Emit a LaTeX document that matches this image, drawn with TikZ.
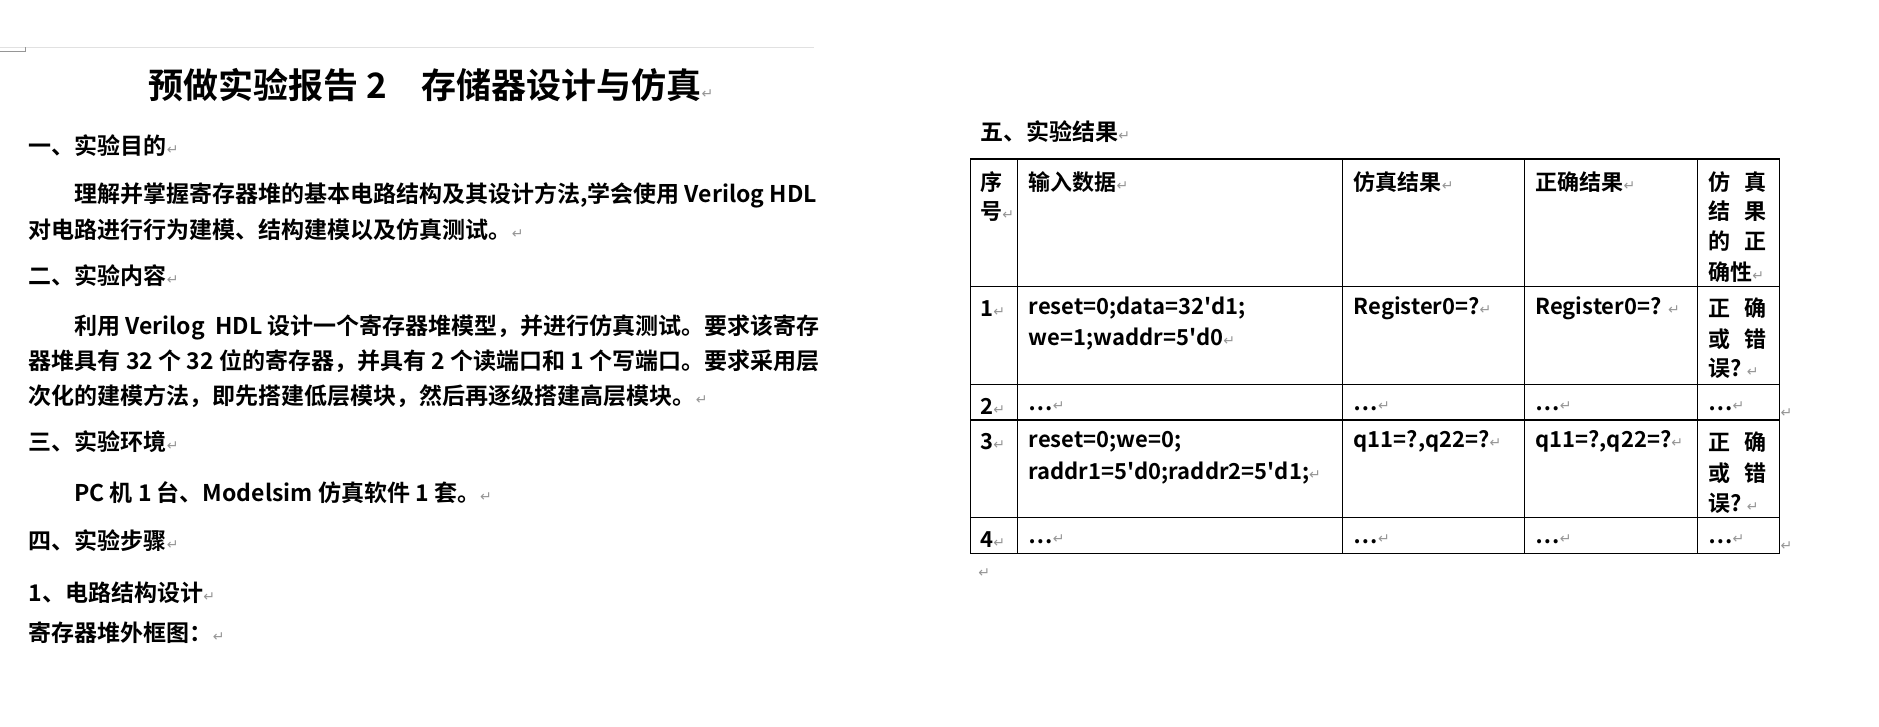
\documentclass[tikz,border=0pt]{standalone}
\usepackage{fontspec}
\setmainfont{Noto Sans CJK SC Bold}
\newfontfamily\symfont{DejaVu Sans}
\definecolor{markgray}{RGB}{150,150,150}
\definecolor{rulegray}{RGB}{225,225,225}
\newcommand{\ret}{{\symfont\color{markgray}\fontsize{14}{14}\selectfont ↵}}
\newcommand{\q}{\textquotesingle}
\begin{document}
\begin{tikzpicture}[x=1pt,y=-1pt,
  txt/.style={anchor=west, inner sep=0pt, font=\fontsize{23}{31}\selectfont},
  cell/.style={anchor=west, inner sep=0pt, font=\fontsize{22}{31}\selectfont}]
  \useasboundingbox[fill=white] (0,0) rectangle (1879,727);
  \begin{scope}[scale=0.988]
  % page edge
  \draw[rulegray] (0,48) -- (824,48);
  \draw[markgray] (0,52) -- (26,52) -- (26,48);
  % left column
  \node[txt, anchor=center, font=\fontsize{35}{38}\selectfont] (title) at (436,86) {预做实验报告 2\quad 存储器设计与仿真\ret};
  \node[txt] (h1) at (29,147) {一、实验目的\ret};
  \node[txt] (p1a) at (75,198) {理解并掌握寄存器堆的基本电路结构及其设计方法,学会使用 Verilog HDL};
  \node[txt] (p1b) at (29,233) {对电路进行行为建模、结构建模以及仿真测试。\ret};
  \node[txt] (h2) at (29,279) {二、实验内容\ret};
  \node[txt] (p2a) at (75,331) {利用 Verilog\ \ HDL 设计一个寄存器堆模型，并进行仿真测试。要求该寄存};
  \node[txt] (p2b) at (29,366) {器堆具有 32 个 32 位的寄存器，并具有 2 个读端口和 1 个写端口。要求采用层};
  \node[txt] (p2c) at (29,401) {次化的建模方法，即先搭建低层模块，然后再逐级搭建高层模块。\ret};
  \node[txt] (h3) at (29,447) {三、实验环境\ret};
  \node[txt] (p3) at (75,499) {PC 机 1 台、Modelsim 仿真软件 1 套。\ret};
  \node[txt] (h4) at (29,547) {四、实验步骤\ret};
  \node[txt] (s1) at (29,600) {1、电路结构设计\ret};
  \node[txt] (s2) at (29,640) {寄存器堆外框图：\ret};
  % right column: table
  \node[txt] (h5) at (992,133) {五、实验结果\ret};
  \draw[line width=1.2pt] (982,161) rectangle (1801,560);
  \foreach \y in {290,389,425,524} \draw[line width=1.2pt] (982,\y) -- (1801,\y);
  \foreach \x in {1030,1359,1543,1718} \draw[line width=0.8pt] (\x,161) -- (\x,560);
  % header row
  \node[cell] (c00) at (992,184) {序};
  \node[cell] (c00b) at (992,214) {号\ret};
  \node[cell] (c01) at (1041,184) {输入数据\ret};
  \node[cell] (c02) at (1370,184) {仿真结果\ret};
  \node[cell] (c03) at (1554,184) {正确结果\ret};
  \node[cell] (c04) at (1729,184) {仿\hspace{14pt}真};
  \node[cell] (c04b) at (1729,214) {结\hspace{14pt}果};
  \node[cell] (c04c) at (1729,244) {的\hspace{14pt}正};
  \node[cell] (c04d) at (1729,275) {确性\ret};
  % row 1
  \node[cell] (c10) at (992,312) {1\ret};
  \node[cell] (c11) at (1041,312) {reset=0;data=32\q d1;};
  \node[cell] (c11b) at (1041,343) {we=1;waddr=5\q d0\ret};
  \node[cell] (c12) at (1370,312) {Register0=?\ret};
  \node[cell] (c13) at (1554,312) {Register0=? \ret};
  \node[cell] (c14) at (1729,312) {正\hspace{14pt}确};
  \node[cell] (c14b) at (1729,343) {或\hspace{14pt}错};
  \node[cell] (c14c) at (1729,373) {误?\ \ret};
  % row 2
  \node[cell] (c20) at (992,411) {2\ret};
  \node[cell] (c21) at (1041,411) {…\ret};
  \node[cell] (c22) at (1370,411) {…\ret};
  \node[cell] (c23) at (1554,411) {…\ret};
  \node[cell] (c24) at (1729,411) {…\ret};
  \node[txt] (e2) at (1802,418) {\ret};
  % row 3
  \node[cell] (c30) at (992,447) {3\ret};
  \node[cell] (c31) at (1041,447) {reset=0;we=0;};
  \node[cell] (c31b) at (1041,479) {raddr1=5\q d0;raddr2=5\q d1;\ret};
  \node[cell] (c32) at (1370,447) {q11=?,q22=?\ret};
  \node[cell] (c33) at (1554,447) {q11=?,q22=?\ret};
  \node[cell] (c34) at (1729,447) {正\hspace{14pt}确};
  \node[cell] (c34b) at (1729,479) {或\hspace{14pt}错};
  \node[cell] (c34c) at (1729,509) {误?\ \ret};
  % row 4
  \node[cell] (c40) at (992,546) {4\ret};
  \node[cell] (c41) at (1041,546) {…\ret};
  \node[cell] (c42) at (1370,546) {…\ret};
  \node[cell] (c43) at (1554,546) {…\ret};
  \node[cell] (c44) at (1729,546) {…\ret};
  \node[txt] (e4) at (1802,553) {\ret};
  \node[txt] (after) at (990,580) {\ret};
  \end{scope}
\end{tikzpicture}
\end{document}
